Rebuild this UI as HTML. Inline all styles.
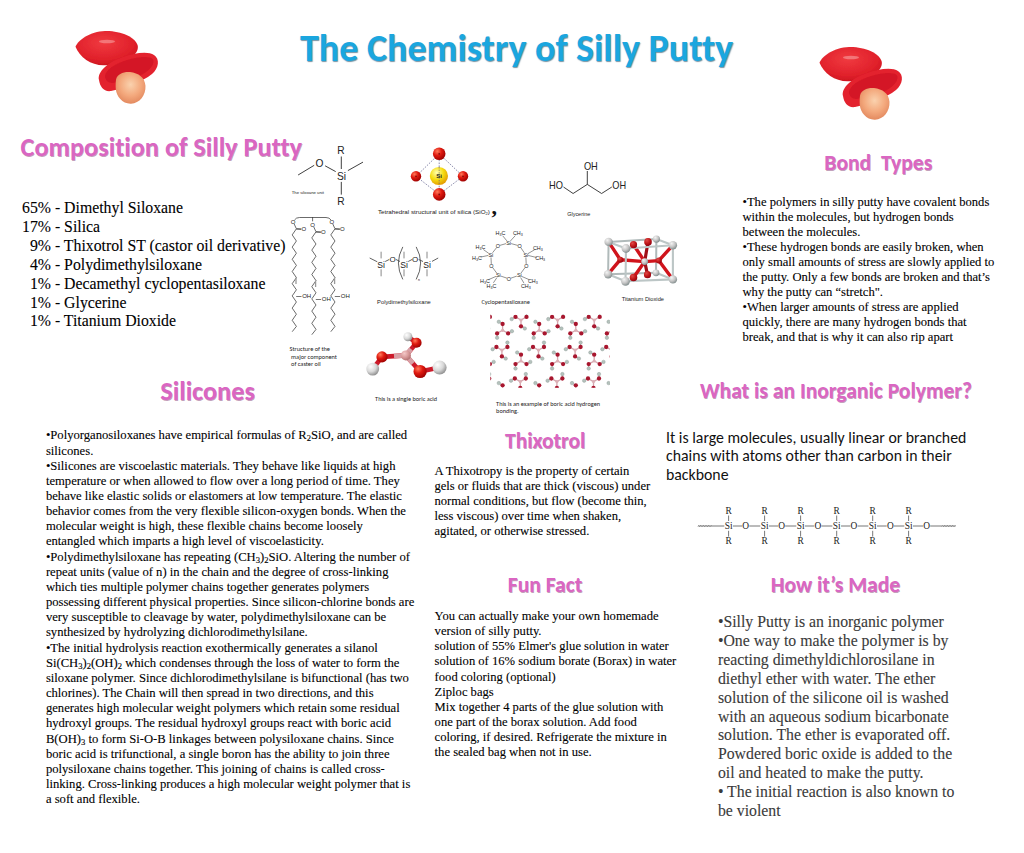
<!DOCTYPE html>
<html><head><meta charset="utf-8"><title>The Chemistry of Silly Putty</title>
<style>
html,body{margin:0;padding:0;background:#fff;}
*{font-variant-ligatures:none;font-feature-settings:"liga" 0,"clig" 0;}
body{width:1024px;height:853px;position:relative;overflow:hidden;}
.art{position:absolute;left:0;top:0;}
.t{position:absolute;white-space:nowrap;margin:0;}
.h{font-family:Carlito,Calibri,"Liberation Sans",sans-serif;font-weight:bold;color:#da66c2;
   text-shadow:0.6px 0.8px 0.6px rgba(120,40,100,0.45);}
.h1{font-size:21.6px;line-height:21.6px;}
.h2{font-size:26.3px;line-height:26.3px;}
.title{font-family:Carlito,Calibri,"Liberation Sans",sans-serif;font-weight:bold;color:#1ba6df;font-size:38px;line-height:38px;
   text-shadow:0.8px 1.1px 1px rgba(10,60,90,0.55);}
.s{font-family:"Liberation Serif","Times New Roman",serif;color:#000;-webkit-text-stroke:0.1px currentColor;}
.s12{font-size:12.6px;line-height:15px;}
.s16{font-size:15.8px;line-height:18.9px;}
.c16{font-family:Carlito,Calibri,"Liberation Sans",sans-serif;font-size:15.8px;line-height:18.5px;color:#111;}
sub{font-size:0.68em;line-height:0;vertical-align:-0.25em;}
</style></head><body>
<svg class="art" width="1024" height="853" viewBox="0 0 1024 853"><defs>
<radialGradient id="gO" cx="35%" cy="30%" r="75%"><stop offset="0" stop-color="#ff7a5a"/><stop offset="0.45" stop-color="#e01a10"/><stop offset="1" stop-color="#9a0000"/></radialGradient>
<radialGradient id="gSi" cx="38%" cy="32%" r="75%"><stop offset="0" stop-color="#ffffb0"/><stop offset="0.5" stop-color="#f5dc10"/><stop offset="1" stop-color="#e09000"/></radialGradient>
<radialGradient id="gH" cx="35%" cy="30%" r="75%"><stop offset="0" stop-color="#ffffff"/><stop offset="0.55" stop-color="#d8d8d8"/><stop offset="1" stop-color="#8a8a8a"/></radialGradient>
<radialGradient id="gTi" cx="35%" cy="30%" r="75%"><stop offset="0" stop-color="#f4f4f4"/><stop offset="0.55" stop-color="#c4c4c4"/><stop offset="1" stop-color="#7e8a8a"/></radialGradient>
<radialGradient id="gB" cx="35%" cy="30%" r="75%"><stop offset="0" stop-color="#f4c8c8"/><stop offset="0.55" stop-color="#d89a9a"/><stop offset="1" stop-color="#b07070"/></radialGradient>
<radialGradient id="gOs" cx="35%" cy="30%" r="75%"><stop offset="0" stop-color="#e04848"/><stop offset="0.55" stop-color="#c01818"/><stop offset="1" stop-color="#900010"/></radialGradient>
<radialGradient id="gRed" cx="45%" cy="35%" r="70%"><stop offset="0" stop-color="#f03a40"/><stop offset="0.7" stop-color="#e0202a"/><stop offset="1" stop-color="#c8141e"/></radialGradient>
<radialGradient id="gShell" cx="60%" cy="35%" r="70%"><stop offset="0" stop-color="#c8101c"/><stop offset="0.6" stop-color="#dc1c28"/><stop offset="1" stop-color="#e8303a"/></radialGradient>
<radialGradient id="gPutty" cx="50%" cy="40%" r="65%"><stop offset="0" stop-color="#fad2ae"/><stop offset="0.55" stop-color="#f3a87c"/><stop offset="1" stop-color="#e0845a"/></radialGradient>
<filter id="blur1" x="-20%" y="-20%" width="140%" height="140%"><feGaussianBlur stdDeviation="0.6"/></filter>
<clipPath id="latclip"><rect x="490.3" y="314.6" width="119.6" height="73.1"/></clipPath>
</defs>
<g transform="translate(0,0)" filter="url(#blur1)">
<path d="M75.5,46.8 C78,40 90,31.5 105,31 C120,30.5 136,37 137.8,46 C139,55 126,63.5 106,65.2 C92,66.3 80,58 75.5,46.8 Z" fill="url(#gRed)"/>
<ellipse cx="107" cy="41.5" rx="8" ry="1.8" fill="#f7a0a0" opacity="0.6"/>
<path d="M99,80 C97,72 108,62 122,57.5 C134,53 148,51 154,55 C160,59 159,68 152,74 C142,82 125,88 111,91 C104,92 100,87 99,80 Z" fill="#e3222e"/>
<path d="M105,76 C105.5,70 115,63.5 127,60 C139,56.5 150,56 153,59.5 C155,63 151,69 144,73.5 C134,79 120,82 112,83 C108,83 105,80 105,76 Z" fill="#d41826"/>
<path transform="translate(130.6,87.8) scale(1.07) translate(-130.6,-87.8)" d="M117,80 C118,75 124,72.5 130,73 C138,74 144,78 144.5,86 C145,95 139,102.5 131,102.7 C123,103 117.5,96 116.8,89.5 C116.5,86 116.6,82.5 117,80 Z" fill="url(#gPutty)"/>
</g>
<g transform="translate(744,16)" filter="url(#blur1)">
<path d="M75.5,46.8 C78,40 90,31.5 105,31 C120,30.5 136,37 137.8,46 C139,55 126,63.5 106,65.2 C92,66.3 80,58 75.5,46.8 Z" fill="url(#gRed)"/>
<ellipse cx="107" cy="41.5" rx="8" ry="1.8" fill="#f7a0a0" opacity="0.6"/>
<path d="M99,80 C97,72 108,62 122,57.5 C134,53 148,51 154,55 C160,59 159,68 152,74 C142,82 125,88 111,91 C104,92 100,87 99,80 Z" fill="#e3222e"/>
<path d="M105,76 C105.5,70 115,63.5 127,60 C139,56.5 150,56 153,59.5 C155,63 151,69 144,73.5 C134,79 120,82 112,83 C108,83 105,80 105,76 Z" fill="#d41826"/>
<path transform="translate(130.6,87.8) scale(1.07) translate(-130.6,-87.8)" d="M117,80 C118,75 124,72.5 130,73 C138,74 144,78 144.5,86 C145,95 139,102.5 131,102.7 C123,103 117.5,96 116.8,89.5 C116.5,86 116.6,82.5 117,80 Z" fill="url(#gPutty)"/>
</g>
<g stroke="#2a2a2a" stroke-width="0.9" fill="none">
<line x1="341.3" y1="156.5" x2="341.3" y2="169"/>
<line x1="298.1" y1="175" x2="314.2" y2="165.3"/>
<line x1="325.1" y1="165.8" x2="335.7" y2="171.6"/>
<line x1="347.9" y1="170.6" x2="363" y2="162.1"/>
<line x1="341.3" y1="181.9" x2="341.3" y2="194.6"/>
</g>
<text font-family="Liberation Sans, Arial, sans-serif" fill="#222" font-size="10.2" text-anchor="middle" x="341" y="154">R</text>
<text font-family="Liberation Sans, Arial, sans-serif" fill="#222" font-size="10.2" text-anchor="middle" x="319.5" y="166.6">O</text>
<text font-family="Liberation Sans, Arial, sans-serif" fill="#222" font-size="10.2" text-anchor="middle" x="341.6" y="179.8">Si</text>
<text font-family="Liberation Sans, Arial, sans-serif" fill="#222" font-size="10.2" text-anchor="middle" x="341" y="204.8">R</text>
<text font-family="Liberation Sans, Arial, sans-serif" fill="#222" font-size="4.2" x="291.7" y="193.8" textLength="32.3" lengthAdjust="spacingAndGlyphs">The siloxane unit</text>
<g stroke="#5a5a8a" stroke-width="0.7" stroke-dasharray="1.6 1.3" fill="none">
<path d="M439.2,153.8 L463,176.3 L439.2,194.4 L416,176.3 Z"/>
<line x1="439.2" y1="153.8" x2="439.2" y2="194.4"/>
</g>
<circle cx="438.9" cy="176" r="9.1" fill="url(#gSi)"/>
<line x1="439.2" y1="167" x2="439.2" y2="185" stroke="#5a5a8a" stroke-width="0.6" stroke-dasharray="1.4 1.2"/>
<text font-family="Liberation Sans, Arial, sans-serif" font-weight="bold" font-size="6" fill="#222" text-anchor="middle" x="439" y="178.2">Si</text>
<circle cx="439.2" cy="153.8" r="6.3" fill="url(#gO)"/>
<circle cx="439.2" cy="153.8" r="0.9" fill="#5a0000" opacity="0.7"/>
<circle cx="416" cy="176.3" r="5.2" fill="url(#gO)"/>
<circle cx="416" cy="176.3" r="0.9" fill="#5a0000" opacity="0.7"/>
<circle cx="463" cy="176.3" r="5.2" fill="url(#gO)"/>
<circle cx="463" cy="176.3" r="0.9" fill="#5a0000" opacity="0.7"/>
<circle cx="439.2" cy="194.4" r="6.3" fill="url(#gO)"/>
<circle cx="439.2" cy="194.4" r="0.9" fill="#5a0000" opacity="0.7"/>
<text font-family="Liberation Sans, Arial, sans-serif" fill="#222" font-size="6.2" x="377.9" y="214.2" textLength="112" lengthAdjust="spacingAndGlyphs">Tetrahedral structural unit of silica (SiO<tspan font-size="4" dy="1">2</tspan><tspan dy="-1">)</tspan></text>
<text font-family="Liberation Serif, serif" font-weight="bold" font-size="22" fill="#111" x="491.6" y="213.6">,</text>
<polyline points="563.5,187 573.1,193.5 587.3,184.4 601.6,193.5 611.8,187" stroke="#2a2a2a" stroke-width="0.9" fill="none"/>
<line x1="587.3" y1="184.4" x2="587.3" y2="171" stroke="#2a2a2a" stroke-width="0.9" fill="none"/>
<text font-family="Liberation Sans, Arial, sans-serif" fill="#222" font-size="10.4" x="583.9" y="169.9" textLength="13.9" lengthAdjust="spacingAndGlyphs">OH</text>
<text font-family="Liberation Sans, Arial, sans-serif" fill="#222" font-size="10.4" x="549" y="188.5" textLength="13.9" lengthAdjust="spacingAndGlyphs">HO</text>
<text font-family="Liberation Sans, Arial, sans-serif" fill="#222" font-size="10.4" x="612.3" y="188.5" textLength="13.8" lengthAdjust="spacingAndGlyphs">OH</text>
<text font-family="Liberation Sans, Arial, sans-serif" fill="#222" font-size="5.5" x="567.2" y="216" textLength="23.1" lengthAdjust="spacingAndGlyphs">Glycerine</text>
<g stroke="#3a3a3a" stroke-width="0.75" fill="none">
<path d="M294.5,220 Q296,217.5 299.5,217.5 L326,217.5 Q329.5,217.5 331,220"/>
<line x1="312.6" y1="217" x2="312.6" y2="221.3"/>
<line x1="294.2" y1="224" x2="296.3" y2="228.6"/>
<line x1="296.3" y1="228.9" x2="301.3" y2="229.1" stroke-width="1.4"/>
<polyline points="296.4,228.8 292.2,234.9 296.4,241 292.2,247.1 296.4,253.2 292.2,259.3 296.4,265.4 292.2,271.5 296.4,277.6 292.2,283.7 296.4,289.8 292.2,295.9 296.4,302 292.2,308.1 296.4,314.2 292.2,320.3 296.4,326.4 292.2,331.7"/>
<line x1="296.2" y1="296.5" x2="301.5" y2="296.5" stroke-width="0.7"/>
<line x1="296" y1="277.5" x2="296" y2="284" stroke="#999" stroke-width="1.3"/>
<line x1="313.8" y1="227" x2="315.9" y2="231.6"/>
<line x1="315.9" y1="231.9" x2="320.9" y2="232.1" stroke-width="1.4"/>
<polyline points="316,231.8 311.8,237.9 316,244 311.8,250.1 316,256.2 311.8,262.3 316,268.4 311.8,274.5 316,280.6 311.8,286.7 316,292.8 311.8,298.9 316,305 311.8,311.1 316,317.2 311.8,323.3 316,329.4 311.8,334.7"/>
<line x1="315.8" y1="299.5" x2="321.1" y2="299.5" stroke-width="0.7"/>
<line x1="315.6" y1="280.5" x2="315.6" y2="287" stroke="#999" stroke-width="1.3"/>
<line x1="332.8" y1="224" x2="334.9" y2="228.6"/>
<line x1="334.9" y1="228.9" x2="339.9" y2="229.1" stroke-width="1.4"/>
<polyline points="335,228.8 330.8,234.9 335,241 330.8,247.1 335,253.2 330.8,259.3 335,265.4 330.8,271.5 335,277.6 330.8,283.7 335,289.8 330.8,295.9 335,302 330.8,308.1 335,314.2 330.8,320.3 335,326.4 330.8,331.7"/>
<line x1="334.8" y1="296.5" x2="340.1" y2="296.5" stroke-width="0.7"/>
<line x1="334.6" y1="277.5" x2="334.6" y2="284" stroke="#999" stroke-width="1.3"/>
</g>
<text font-family="Liberation Sans, Arial, sans-serif" fill="#222" font-size="6" text-anchor="middle" x="293.1" y="223.9">O</text>
<text font-family="Liberation Sans, Arial, sans-serif" fill="#222" font-size="6" text-anchor="middle" x="312.6" y="226.5">O</text>
<text font-family="Liberation Sans, Arial, sans-serif" fill="#222" font-size="6" text-anchor="middle" x="331.9" y="223.6">O</text>
<text font-family="Liberation Sans, Arial, sans-serif" fill="#222" font-size="6" text-anchor="middle" x="303.8" y="231.4">O</text>
<text font-family="Liberation Sans, Arial, sans-serif" fill="#222" font-size="6" text-anchor="middle" x="323.4" y="234.4">O</text>
<text font-family="Liberation Sans, Arial, sans-serif" fill="#222" font-size="6" text-anchor="middle" x="342.4" y="231.4">O</text>
<text font-family="Liberation Sans, Arial, sans-serif" fill="#222" font-size="6" x="302.2" y="298.4">OH</text>
<text font-family="Liberation Sans, Arial, sans-serif" fill="#222" font-size="6" x="321.8" y="301.4">OH</text>
<text font-family="Liberation Sans, Arial, sans-serif" fill="#222" font-size="6" x="340.8" y="298.4">OH</text>
<text font-family="Carlito, Liberation Sans, sans-serif" fill="#222" font-size="6.3" x="289.5" y="351.2">Structure of the</text>
<text font-family="Carlito, Liberation Sans, sans-serif" fill="#222" font-size="6.3" x="291.1" y="358.9">major component</text>
<text font-family="Carlito, Liberation Sans, sans-serif" fill="#222" font-size="6.3" x="291.1" y="366">of caster oil</text>
<g stroke="#3a3a3a" stroke-width="0.8" fill="none">
<line x1="369.7" y1="258" x2="377.3" y2="261.8"/>
<line x1="432" y1="261.4" x2="438.2" y2="258"/>
<line x1="385.2" y1="261.5" x2="389.2" y2="259.5"/>
<line x1="396" y1="259.5" x2="400" y2="261.5"/>
<line x1="408.2" y1="261.5" x2="412" y2="259.5"/>
<line x1="418.7" y1="259.5" x2="423" y2="261.5"/>
<line x1="381.1" y1="251.7" x2="381.1" y2="258.4" stroke="#888" stroke-width="1"/>
<line x1="381.1" y1="269.3" x2="381.1" y2="276.3" stroke="#888" stroke-width="1"/>
<line x1="404" y1="251.7" x2="404" y2="258.4" stroke="#888" stroke-width="1"/>
<line x1="404" y1="269.3" x2="404" y2="276.3" stroke="#888" stroke-width="1"/>
<line x1="427" y1="251.7" x2="427" y2="258.4" stroke="#888" stroke-width="1"/>
<line x1="427" y1="269.3" x2="427" y2="276.3" stroke="#888" stroke-width="1"/>
<path d="M402.8,246.9 Q394,263 402.8,279.4"/>
<path d="M416.2,246.9 Q425,263 416.2,279.4"/>
</g>
<text font-family="Liberation Sans, Arial, sans-serif" fill="#222" font-size="8.6" text-anchor="middle" x="381.1" y="268.2">Si</text>
<text font-family="Liberation Sans, Arial, sans-serif" fill="#222" font-size="8.6" text-anchor="middle" x="404" y="268.2">Si</text>
<text font-family="Liberation Sans, Arial, sans-serif" fill="#222" font-size="8.6" text-anchor="middle" x="427" y="268.2">Si</text>
<text font-family="Liberation Sans, Arial, sans-serif" fill="#222" font-size="8" text-anchor="middle" x="392.5" y="261.6">O</text>
<text font-family="Liberation Sans, Arial, sans-serif" fill="#222" font-size="8" text-anchor="middle" x="415.2" y="261.6">O</text>
<text font-family="Liberation Sans, Arial, sans-serif" fill="#222" font-size="3.5" x="418" y="281">n</text>
<text font-family="Liberation Sans, Arial, sans-serif" fill="#222" font-size="5.75" x="377.1" y="303.8" textLength="53.7" lengthAdjust="spacingAndGlyphs">Polydimethylsiloxane</text>
<g stroke="#4a4a4a" stroke-width="0.6" fill="none">
<line x1="511.1" y1="243.6" x2="517.7" y2="245.4"/>
<line x1="520.7" y1="247.5" x2="524.3" y2="252.8"/>
<line x1="525.9" y1="257.5" x2="526.2" y2="263.9"/>
<line x1="525.1" y1="267.5" x2="520.9" y2="273.2"/>
<line x1="516.8" y1="276.1" x2="510.8" y2="278.2"/>
<line x1="507" y1="278.2" x2="500.9" y2="276.1"/>
<line x1="496.8" y1="273.2" x2="492.6" y2="267.5"/>
<line x1="491.3" y1="263.9" x2="491" y2="257.5"/>
<line x1="492.5" y1="252.8" x2="496.7" y2="247.5"/>
<line x1="499.8" y1="245.4" x2="506.1" y2="243.6"/>
<line x1="506.9" y1="240.9" x2="502.7" y2="235.8"/>
<line x1="510.4" y1="241" x2="515.3" y2="235.6"/>
<line x1="488.8" y1="253.4" x2="483.3" y2="249.5"/>
<line x1="488.4" y1="255.4" x2="480.5" y2="257.1"/>
<line x1="528" y1="253.6" x2="534.7" y2="249.7"/>
<line x1="528.3" y1="255.5" x2="536.7" y2="257.5"/>
<line x1="496" y1="276.4" x2="488.2" y2="279.8"/>
<line x1="497" y1="277.5" x2="493.4" y2="282.8"/>
<line x1="521.7" y1="276.4" x2="529.5" y2="279.8"/>
<line x1="520.6" y1="277.5" x2="524" y2="283.2"/>
</g>
<text font-family="Liberation Sans, Arial, sans-serif" fill="#222" font-size="5.4" text-anchor="middle" x="508.6" y="244.8">Si</text>
<text font-family="Liberation Sans, Arial, sans-serif" fill="#222" font-size="5.4" text-anchor="middle" x="519.6" y="247.8">O</text>
<text font-family="Liberation Sans, Arial, sans-serif" fill="#222" font-size="5.4" text-anchor="middle" x="525.8" y="256.8">Si</text>
<text font-family="Liberation Sans, Arial, sans-serif" fill="#222" font-size="5.4" text-anchor="middle" x="526.3" y="267.8">O</text>
<text font-family="Liberation Sans, Arial, sans-serif" fill="#222" font-size="5.4" text-anchor="middle" x="519.3" y="277.2">Si</text>
<text font-family="Liberation Sans, Arial, sans-serif" fill="#222" font-size="5.4" text-anchor="middle" x="508.9" y="280.7">O</text>
<text font-family="Liberation Sans, Arial, sans-serif" fill="#222" font-size="5.4" text-anchor="middle" x="498.4" y="277.2">Si</text>
<text font-family="Liberation Sans, Arial, sans-serif" fill="#222" font-size="5.4" text-anchor="middle" x="491.4" y="267.8">O</text>
<text font-family="Liberation Sans, Arial, sans-serif" fill="#222" font-size="5.4" text-anchor="middle" x="490.9" y="256.8">Si</text>
<text font-family="Liberation Sans, Arial, sans-serif" fill="#222" font-size="5.4" text-anchor="middle" x="497.9" y="247.8">O</text>
<text font-family="Liberation Sans, Arial, sans-serif" fill="#222" font-size="5.4" text-anchor="middle" x="500.4" y="234.9">H<tspan font-size="3.6" dy="1">3</tspan><tspan dy="-1">C</tspan></text>
<text font-family="Liberation Sans, Arial, sans-serif" fill="#222" font-size="5.4" text-anchor="middle" x="517.8" y="234.9">CH<tspan font-size="3.6" dy="1">3</tspan></text>
<text font-family="Liberation Sans, Arial, sans-serif" fill="#222" font-size="5.4" text-anchor="middle" x="480.4" y="249.3">H<tspan font-size="3.6" dy="1">3</tspan><tspan dy="-1">C</tspan></text>
<text font-family="Liberation Sans, Arial, sans-serif" fill="#222" font-size="5.4" text-anchor="middle" x="477" y="259.8">H<tspan font-size="3.6" dy="1">3</tspan><tspan dy="-1">C</tspan></text>
<text font-family="Liberation Sans, Arial, sans-serif" fill="#222" font-size="5.4" text-anchor="middle" x="537.8" y="249.8">CH<tspan font-size="3.6" dy="1">3</tspan></text>
<text font-family="Liberation Sans, Arial, sans-serif" fill="#222" font-size="5.4" text-anchor="middle" x="540.2" y="260.3">CH<tspan font-size="3.6" dy="1">3</tspan></text>
<text font-family="Liberation Sans, Arial, sans-serif" fill="#222" font-size="5.4" text-anchor="middle" x="484.9" y="283.2">H<tspan font-size="3.6" dy="1">3</tspan><tspan dy="-1">C</tspan></text>
<text font-family="Liberation Sans, Arial, sans-serif" fill="#222" font-size="5.4" text-anchor="middle" x="491.4" y="287.7">H<tspan font-size="3.6" dy="1">3</tspan><tspan dy="-1">C</tspan></text>
<text font-family="Liberation Sans, Arial, sans-serif" fill="#222" font-size="5.4" text-anchor="middle" x="532.8" y="283.2">CH<tspan font-size="3.6" dy="1">3</tspan></text>
<text font-family="Liberation Sans, Arial, sans-serif" fill="#222" font-size="5.4" text-anchor="middle" x="525.8" y="288.2">CH<tspan font-size="3.6" dy="1">3</tspan></text>
<text font-family="Carlito, Liberation Sans, sans-serif" fill="#222" font-size="5.6" x="481.4" y="303.6" textLength="48.4" lengthAdjust="spacingAndGlyphs">Cyclopentasiloxane</text>
<g stroke-linecap="round">
<line x1="608.6" y1="241.9" x2="656.4" y2="239.1" stroke="#b0baba" stroke-width="2"/>
<line x1="608.1" y1="274.2" x2="656" y2="272.8" stroke="#b0baba" stroke-width="2"/>
<line x1="608.6" y1="241.9" x2="608.1" y2="274.2" stroke="#b0baba" stroke-width="2"/>
<line x1="656.4" y1="239.1" x2="656" y2="272.8" stroke="#b0baba" stroke-width="2"/>
<line x1="648" y1="241.9" x2="644.7" y2="261.6" stroke="#a01018" stroke-width="3.2"/>
<line x1="647.5" y1="274.7" x2="644.7" y2="261.6" stroke="#a01018" stroke-width="3.2"/>
<line x1="608.6" y1="241.9" x2="620.3" y2="259.7" stroke="#d0141c" stroke-width="3.4"/>
<line x1="620.3" y1="259.7" x2="608.1" y2="274.2" stroke="#d0141c" stroke-width="3.4"/>
<line x1="620.3" y1="259.7" x2="644.7" y2="261.6" stroke="#d0141c" stroke-width="3.4"/>
<line x1="672.9" y1="245.2" x2="658.8" y2="260.6" stroke="#d0141c" stroke-width="3.4"/>
<line x1="658.8" y1="260.6" x2="672.9" y2="279.4" stroke="#d0141c" stroke-width="3.4"/>
<line x1="658.8" y1="260.6" x2="644.7" y2="261.6" stroke="#d0141c" stroke-width="3.4"/>
<line x1="633.5" y1="244.7" x2="644.7" y2="261.6" stroke="#d0141c" stroke-width="3.4"/>
<line x1="633.5" y1="277.5" x2="644.7" y2="261.6" stroke="#d0141c" stroke-width="3.4"/>
<line x1="626" y1="248.5" x2="672.9" y2="245.2" stroke="#bcc6c6" stroke-width="2.1"/>
<line x1="625.5" y1="281.3" x2="672.9" y2="279.4" stroke="#bcc6c6" stroke-width="2.1"/>
<line x1="608.6" y1="241.9" x2="626" y2="248.5" stroke="#bcc6c6" stroke-width="2.1"/>
<line x1="656.4" y1="239.1" x2="672.9" y2="245.2" stroke="#bcc6c6" stroke-width="2.1"/>
<line x1="608.1" y1="274.2" x2="625.5" y2="281.3" stroke="#bcc6c6" stroke-width="2.1"/>
<line x1="656" y1="272.8" x2="672.9" y2="279.4" stroke="#bcc6c6" stroke-width="2.1"/>
<line x1="626" y1="248.5" x2="625.5" y2="281.3" stroke="#bcc6c6" stroke-width="2.1"/>
<line x1="672.9" y1="245.2" x2="672.9" y2="279.4" stroke="#bcc6c6" stroke-width="2.1"/>
</g>
<circle cx="656.4" cy="239.1" r="3.6" fill="url(#gTi)"/>
<circle cx="656" cy="272.8" r="3.4" fill="url(#gTi)"/>
<circle cx="608.6" cy="241.9" r="4.2" fill="url(#gTi)"/>
<circle cx="608.1" cy="274.2" r="4.2" fill="url(#gTi)"/>
<circle cx="644.7" cy="261.6" r="3.4" fill="url(#gTi)"/>
<circle cx="648" cy="241.9" r="3.8" fill="url(#gOs)"/>
<circle cx="647.5" cy="274.7" r="3.6" fill="url(#gOs)"/>
<circle cx="633.5" cy="244.7" r="3.6" fill="url(#gOs)"/>
<circle cx="620.3" cy="259.7" r="3" fill="url(#gOs)"/>
<circle cx="658.8" cy="260.6" r="3" fill="url(#gOs)"/>
<circle cx="633.5" cy="277.5" r="3.8" fill="url(#gOs)"/>
<circle cx="626" cy="248.5" r="4.4" fill="url(#gTi)"/>
<circle cx="672.9" cy="245.2" r="4.2" fill="url(#gTi)"/>
<circle cx="625.5" cy="281.3" r="4.4" fill="url(#gTi)"/>
<circle cx="672.9" cy="279.4" r="4.2" fill="url(#gTi)"/>
<text font-family="Liberation Sans, Arial, sans-serif" fill="#222" font-size="5.7" x="621.7" y="301" textLength="42.3" lengthAdjust="spacingAndGlyphs">Titanium Dioxide</text>
<line x1="405.9" y1="355.4" x2="416.6" y2="342.7" stroke="#cc1a2a" stroke-width="4.6"/>
<line x1="416.6" y1="342.7" x2="407.9" y2="336.8" stroke="#cc1a2a" stroke-width="4.6"/>
<line x1="405.9" y1="355.4" x2="382" y2="356.9" stroke="#cc1a2a" stroke-width="4.6"/>
<line x1="382" y1="356.9" x2="372.7" y2="369.1" stroke="#cc1a2a" stroke-width="4.6"/>
<line x1="405.9" y1="355.4" x2="420.1" y2="371.5" stroke="#cc1a2a" stroke-width="4.6"/>
<line x1="420.1" y1="371.5" x2="439.6" y2="367.6" stroke="#cc1a2a" stroke-width="4.6"/>
<line x1="405.9" y1="355.4" x2="394" y2="356.1" stroke="#d8a0a6" stroke-width="4.8"/>
<line x1="405.9" y1="355.4" x2="411" y2="349" stroke="#d8a0a6" stroke-width="4.8"/>
<line x1="405.9" y1="355.4" x2="413" y2="363.4" stroke="#d8a0a6" stroke-width="4.8"/>
<circle cx="407.9" cy="336.8" r="4.5" fill="url(#gH)"/>
<circle cx="416.6" cy="342.7" r="5" fill="url(#gO)"/>
<circle cx="405.9" cy="355.4" r="5" fill="url(#gB)"/>
<circle cx="382" cy="356.9" r="5.6" fill="url(#gO)"/>
<circle cx="372.7" cy="369.1" r="6.4" fill="url(#gH)"/>
<circle cx="439.6" cy="367.6" r="7" fill="url(#gH)"/>
<circle cx="420.1" cy="371.5" r="6.6" fill="url(#gO)"/>
<text font-family="Carlito, Liberation Sans, sans-serif" fill="#222" font-size="6.25" x="375.1" y="400.8">This is a single boric acid</text>
<g clip-path="url(#latclip)">
<line x1="502.4" y1="289.4" x2="496.9" y2="286.2" stroke="#d4a4ac" stroke-width="1.3"/>
<line x1="496.9" y1="286.2" x2="493.1" y2="288.4" stroke="#b89098" stroke-width="1.0"/>
<line x1="502.4" y1="289.4" x2="507.9" y2="286.2" stroke="#d4a4ac" stroke-width="1.3"/>
<line x1="507.9" y1="286.2" x2="507.9" y2="281.9" stroke="#b89098" stroke-width="1.0"/>
<line x1="502.4" y1="289.4" x2="502.4" y2="295.7" stroke="#d4a4ac" stroke-width="1.3"/>
<line x1="502.4" y1="295.7" x2="506.2" y2="297.9" stroke="#b89098" stroke-width="1.0"/>
<line x1="539" y1="289.4" x2="533.5" y2="286.2" stroke="#d4a4ac" stroke-width="1.3"/>
<line x1="533.5" y1="286.2" x2="529.7" y2="288.4" stroke="#b89098" stroke-width="1.0"/>
<line x1="539" y1="289.4" x2="544.5" y2="286.2" stroke="#d4a4ac" stroke-width="1.3"/>
<line x1="544.5" y1="286.2" x2="544.5" y2="281.9" stroke="#b89098" stroke-width="1.0"/>
<line x1="539" y1="289.4" x2="539" y2="295.7" stroke="#d4a4ac" stroke-width="1.3"/>
<line x1="539" y1="295.7" x2="542.8" y2="297.9" stroke="#b89098" stroke-width="1.0"/>
<line x1="575.6" y1="289.4" x2="570.1" y2="286.2" stroke="#d4a4ac" stroke-width="1.3"/>
<line x1="570.1" y1="286.2" x2="566.3" y2="288.4" stroke="#b89098" stroke-width="1.0"/>
<line x1="575.6" y1="289.4" x2="581.1" y2="286.2" stroke="#d4a4ac" stroke-width="1.3"/>
<line x1="581.1" y1="286.2" x2="581.1" y2="281.9" stroke="#b89098" stroke-width="1.0"/>
<line x1="575.6" y1="289.4" x2="575.6" y2="295.7" stroke="#d4a4ac" stroke-width="1.3"/>
<line x1="575.6" y1="295.7" x2="579.4" y2="297.9" stroke="#b89098" stroke-width="1.0"/>
<line x1="612.2" y1="289.4" x2="606.7" y2="286.2" stroke="#d4a4ac" stroke-width="1.3"/>
<line x1="606.7" y1="286.2" x2="602.9" y2="288.4" stroke="#b89098" stroke-width="1.0"/>
<line x1="612.2" y1="289.4" x2="617.7" y2="286.2" stroke="#d4a4ac" stroke-width="1.3"/>
<line x1="617.7" y1="286.2" x2="617.7" y2="281.9" stroke="#b89098" stroke-width="1.0"/>
<line x1="612.2" y1="289.4" x2="612.2" y2="295.7" stroke="#d4a4ac" stroke-width="1.3"/>
<line x1="612.2" y1="295.7" x2="616" y2="297.9" stroke="#b89098" stroke-width="1.0"/>
<line x1="484.4" y1="299.7" x2="484.4" y2="293.4" stroke="#d4a4ac" stroke-width="1.3"/>
<line x1="484.4" y1="293.4" x2="480.6" y2="291.2" stroke="#b89098" stroke-width="1.0"/>
<line x1="484.4" y1="299.7" x2="478.9" y2="302.8" stroke="#d4a4ac" stroke-width="1.3"/>
<line x1="478.9" y1="302.8" x2="478.9" y2="307.2" stroke="#b89098" stroke-width="1.0"/>
<line x1="484.4" y1="299.7" x2="489.9" y2="302.8" stroke="#d4a4ac" stroke-width="1.3"/>
<line x1="489.9" y1="302.8" x2="493.7" y2="300.6" stroke="#b89098" stroke-width="1.0"/>
<line x1="521" y1="299.7" x2="521" y2="293.4" stroke="#d4a4ac" stroke-width="1.3"/>
<line x1="521" y1="293.4" x2="517.2" y2="291.2" stroke="#b89098" stroke-width="1.0"/>
<line x1="521" y1="299.7" x2="515.5" y2="302.8" stroke="#d4a4ac" stroke-width="1.3"/>
<line x1="515.5" y1="302.8" x2="515.5" y2="307.2" stroke="#b89098" stroke-width="1.0"/>
<line x1="521" y1="299.7" x2="526.5" y2="302.8" stroke="#d4a4ac" stroke-width="1.3"/>
<line x1="526.5" y1="302.8" x2="530.3" y2="300.6" stroke="#b89098" stroke-width="1.0"/>
<line x1="557.6" y1="299.7" x2="557.6" y2="293.4" stroke="#d4a4ac" stroke-width="1.3"/>
<line x1="557.6" y1="293.4" x2="553.8" y2="291.2" stroke="#b89098" stroke-width="1.0"/>
<line x1="557.6" y1="299.7" x2="552.1" y2="302.8" stroke="#d4a4ac" stroke-width="1.3"/>
<line x1="552.1" y1="302.8" x2="552.1" y2="307.2" stroke="#b89098" stroke-width="1.0"/>
<line x1="557.6" y1="299.7" x2="563.1" y2="302.8" stroke="#d4a4ac" stroke-width="1.3"/>
<line x1="563.1" y1="302.8" x2="566.9" y2="300.6" stroke="#b89098" stroke-width="1.0"/>
<line x1="594.2" y1="299.7" x2="594.2" y2="293.4" stroke="#d4a4ac" stroke-width="1.3"/>
<line x1="594.2" y1="293.4" x2="590.4" y2="291.2" stroke="#b89098" stroke-width="1.0"/>
<line x1="594.2" y1="299.7" x2="588.7" y2="302.8" stroke="#d4a4ac" stroke-width="1.3"/>
<line x1="588.7" y1="302.8" x2="588.7" y2="307.2" stroke="#b89098" stroke-width="1.0"/>
<line x1="594.2" y1="299.7" x2="599.7" y2="302.8" stroke="#d4a4ac" stroke-width="1.3"/>
<line x1="599.7" y1="302.8" x2="603.5" y2="300.6" stroke="#b89098" stroke-width="1.0"/>
<line x1="484.4" y1="320" x2="478.9" y2="316.9" stroke="#d4a4ac" stroke-width="1.3"/>
<line x1="478.9" y1="316.9" x2="475.1" y2="319.1" stroke="#b89098" stroke-width="1.0"/>
<line x1="484.4" y1="320" x2="489.9" y2="316.9" stroke="#d4a4ac" stroke-width="1.3"/>
<line x1="489.9" y1="316.9" x2="489.9" y2="312.5" stroke="#b89098" stroke-width="1.0"/>
<line x1="484.4" y1="320" x2="484.4" y2="326.3" stroke="#d4a4ac" stroke-width="1.3"/>
<line x1="484.4" y1="326.3" x2="488.2" y2="328.5" stroke="#b89098" stroke-width="1.0"/>
<line x1="521" y1="320" x2="515.5" y2="316.9" stroke="#d4a4ac" stroke-width="1.3"/>
<line x1="515.5" y1="316.9" x2="511.7" y2="319.1" stroke="#b89098" stroke-width="1.0"/>
<line x1="521" y1="320" x2="526.5" y2="316.9" stroke="#d4a4ac" stroke-width="1.3"/>
<line x1="526.5" y1="316.9" x2="526.5" y2="312.5" stroke="#b89098" stroke-width="1.0"/>
<line x1="521" y1="320" x2="521" y2="326.3" stroke="#d4a4ac" stroke-width="1.3"/>
<line x1="521" y1="326.3" x2="524.8" y2="328.5" stroke="#b89098" stroke-width="1.0"/>
<line x1="557.6" y1="320" x2="552.1" y2="316.9" stroke="#d4a4ac" stroke-width="1.3"/>
<line x1="552.1" y1="316.9" x2="548.3" y2="319.1" stroke="#b89098" stroke-width="1.0"/>
<line x1="557.6" y1="320" x2="563.1" y2="316.9" stroke="#d4a4ac" stroke-width="1.3"/>
<line x1="563.1" y1="316.9" x2="563.1" y2="312.5" stroke="#b89098" stroke-width="1.0"/>
<line x1="557.6" y1="320" x2="557.6" y2="326.3" stroke="#d4a4ac" stroke-width="1.3"/>
<line x1="557.6" y1="326.3" x2="561.4" y2="328.5" stroke="#b89098" stroke-width="1.0"/>
<line x1="594.2" y1="320" x2="588.7" y2="316.9" stroke="#d4a4ac" stroke-width="1.3"/>
<line x1="588.7" y1="316.9" x2="584.9" y2="319.1" stroke="#b89098" stroke-width="1.0"/>
<line x1="594.2" y1="320" x2="599.7" y2="316.9" stroke="#d4a4ac" stroke-width="1.3"/>
<line x1="599.7" y1="316.9" x2="599.7" y2="312.5" stroke="#b89098" stroke-width="1.0"/>
<line x1="594.2" y1="320" x2="594.2" y2="326.3" stroke="#d4a4ac" stroke-width="1.3"/>
<line x1="594.2" y1="326.3" x2="598" y2="328.5" stroke="#b89098" stroke-width="1.0"/>
<line x1="502.6" y1="330.3" x2="502.6" y2="324" stroke="#d4a4ac" stroke-width="1.3"/>
<line x1="502.6" y1="324" x2="498.8" y2="321.8" stroke="#b89098" stroke-width="1.0"/>
<line x1="502.6" y1="330.3" x2="497.1" y2="333.4" stroke="#d4a4ac" stroke-width="1.3"/>
<line x1="497.1" y1="333.4" x2="497.1" y2="337.8" stroke="#b89098" stroke-width="1.0"/>
<line x1="502.6" y1="330.3" x2="508.1" y2="333.4" stroke="#d4a4ac" stroke-width="1.3"/>
<line x1="508.1" y1="333.4" x2="511.9" y2="331.2" stroke="#b89098" stroke-width="1.0"/>
<line x1="539.2" y1="330.3" x2="539.2" y2="324" stroke="#d4a4ac" stroke-width="1.3"/>
<line x1="539.2" y1="324" x2="535.4" y2="321.8" stroke="#b89098" stroke-width="1.0"/>
<line x1="539.2" y1="330.3" x2="533.7" y2="333.4" stroke="#d4a4ac" stroke-width="1.3"/>
<line x1="533.7" y1="333.4" x2="533.7" y2="337.8" stroke="#b89098" stroke-width="1.0"/>
<line x1="539.2" y1="330.3" x2="544.7" y2="333.4" stroke="#d4a4ac" stroke-width="1.3"/>
<line x1="544.7" y1="333.4" x2="548.5" y2="331.2" stroke="#b89098" stroke-width="1.0"/>
<line x1="575.8" y1="330.3" x2="575.8" y2="324" stroke="#d4a4ac" stroke-width="1.3"/>
<line x1="575.8" y1="324" x2="572" y2="321.8" stroke="#b89098" stroke-width="1.0"/>
<line x1="575.8" y1="330.3" x2="570.3" y2="333.4" stroke="#d4a4ac" stroke-width="1.3"/>
<line x1="570.3" y1="333.4" x2="570.3" y2="337.8" stroke="#b89098" stroke-width="1.0"/>
<line x1="575.8" y1="330.3" x2="581.3" y2="333.4" stroke="#d4a4ac" stroke-width="1.3"/>
<line x1="581.3" y1="333.4" x2="585.1" y2="331.2" stroke="#b89098" stroke-width="1.0"/>
<line x1="612.4" y1="330.3" x2="612.4" y2="324" stroke="#d4a4ac" stroke-width="1.3"/>
<line x1="612.4" y1="324" x2="608.6" y2="321.8" stroke="#b89098" stroke-width="1.0"/>
<line x1="612.4" y1="330.3" x2="606.9" y2="333.4" stroke="#d4a4ac" stroke-width="1.3"/>
<line x1="606.9" y1="333.4" x2="606.9" y2="337.8" stroke="#b89098" stroke-width="1.0"/>
<line x1="612.4" y1="330.3" x2="617.9" y2="333.4" stroke="#d4a4ac" stroke-width="1.3"/>
<line x1="617.9" y1="333.4" x2="621.7" y2="331.2" stroke="#b89098" stroke-width="1.0"/>
<line x1="501.9" y1="350.1" x2="496.4" y2="347" stroke="#d4a4ac" stroke-width="1.3"/>
<line x1="496.4" y1="347" x2="492.6" y2="349.2" stroke="#b89098" stroke-width="1.0"/>
<line x1="501.9" y1="350.1" x2="507.4" y2="347" stroke="#d4a4ac" stroke-width="1.3"/>
<line x1="507.4" y1="347" x2="507.4" y2="342.6" stroke="#b89098" stroke-width="1.0"/>
<line x1="501.9" y1="350.1" x2="501.9" y2="356.4" stroke="#d4a4ac" stroke-width="1.3"/>
<line x1="501.9" y1="356.4" x2="505.7" y2="358.6" stroke="#b89098" stroke-width="1.0"/>
<line x1="538.5" y1="350.1" x2="533" y2="347" stroke="#d4a4ac" stroke-width="1.3"/>
<line x1="533" y1="347" x2="529.2" y2="349.2" stroke="#b89098" stroke-width="1.0"/>
<line x1="538.5" y1="350.1" x2="544" y2="347" stroke="#d4a4ac" stroke-width="1.3"/>
<line x1="544" y1="347" x2="544" y2="342.6" stroke="#b89098" stroke-width="1.0"/>
<line x1="538.5" y1="350.1" x2="538.5" y2="356.4" stroke="#d4a4ac" stroke-width="1.3"/>
<line x1="538.5" y1="356.4" x2="542.3" y2="358.6" stroke="#b89098" stroke-width="1.0"/>
<line x1="575.1" y1="350.1" x2="569.6" y2="347" stroke="#d4a4ac" stroke-width="1.3"/>
<line x1="569.6" y1="347" x2="565.8" y2="349.2" stroke="#b89098" stroke-width="1.0"/>
<line x1="575.1" y1="350.1" x2="580.6" y2="347" stroke="#d4a4ac" stroke-width="1.3"/>
<line x1="580.6" y1="347" x2="580.6" y2="342.6" stroke="#b89098" stroke-width="1.0"/>
<line x1="575.1" y1="350.1" x2="575.1" y2="356.4" stroke="#d4a4ac" stroke-width="1.3"/>
<line x1="575.1" y1="356.4" x2="578.9" y2="358.6" stroke="#b89098" stroke-width="1.0"/>
<line x1="611.7" y1="350.1" x2="606.2" y2="347" stroke="#d4a4ac" stroke-width="1.3"/>
<line x1="606.2" y1="347" x2="602.4" y2="349.2" stroke="#b89098" stroke-width="1.0"/>
<line x1="611.7" y1="350.1" x2="617.2" y2="347" stroke="#d4a4ac" stroke-width="1.3"/>
<line x1="617.2" y1="347" x2="617.2" y2="342.6" stroke="#b89098" stroke-width="1.0"/>
<line x1="611.7" y1="350.1" x2="611.7" y2="356.4" stroke="#d4a4ac" stroke-width="1.3"/>
<line x1="611.7" y1="356.4" x2="615.5" y2="358.6" stroke="#b89098" stroke-width="1.0"/>
<line x1="484.4" y1="361" x2="484.4" y2="354.7" stroke="#d4a4ac" stroke-width="1.3"/>
<line x1="484.4" y1="354.7" x2="480.6" y2="352.5" stroke="#b89098" stroke-width="1.0"/>
<line x1="484.4" y1="361" x2="478.9" y2="364.1" stroke="#d4a4ac" stroke-width="1.3"/>
<line x1="478.9" y1="364.1" x2="478.9" y2="368.5" stroke="#b89098" stroke-width="1.0"/>
<line x1="484.4" y1="361" x2="489.9" y2="364.1" stroke="#d4a4ac" stroke-width="1.3"/>
<line x1="489.9" y1="364.1" x2="493.7" y2="361.9" stroke="#b89098" stroke-width="1.0"/>
<line x1="521" y1="361" x2="521" y2="354.7" stroke="#d4a4ac" stroke-width="1.3"/>
<line x1="521" y1="354.7" x2="517.2" y2="352.5" stroke="#b89098" stroke-width="1.0"/>
<line x1="521" y1="361" x2="515.5" y2="364.1" stroke="#d4a4ac" stroke-width="1.3"/>
<line x1="515.5" y1="364.1" x2="515.5" y2="368.5" stroke="#b89098" stroke-width="1.0"/>
<line x1="521" y1="361" x2="526.5" y2="364.1" stroke="#d4a4ac" stroke-width="1.3"/>
<line x1="526.5" y1="364.1" x2="530.3" y2="361.9" stroke="#b89098" stroke-width="1.0"/>
<line x1="557.6" y1="361" x2="557.6" y2="354.7" stroke="#d4a4ac" stroke-width="1.3"/>
<line x1="557.6" y1="354.7" x2="553.8" y2="352.5" stroke="#b89098" stroke-width="1.0"/>
<line x1="557.6" y1="361" x2="552.1" y2="364.1" stroke="#d4a4ac" stroke-width="1.3"/>
<line x1="552.1" y1="364.1" x2="552.1" y2="368.5" stroke="#b89098" stroke-width="1.0"/>
<line x1="557.6" y1="361" x2="563.1" y2="364.1" stroke="#d4a4ac" stroke-width="1.3"/>
<line x1="563.1" y1="364.1" x2="566.9" y2="361.9" stroke="#b89098" stroke-width="1.0"/>
<line x1="594.2" y1="361" x2="594.2" y2="354.7" stroke="#d4a4ac" stroke-width="1.3"/>
<line x1="594.2" y1="354.7" x2="590.4" y2="352.5" stroke="#b89098" stroke-width="1.0"/>
<line x1="594.2" y1="361" x2="588.7" y2="364.1" stroke="#d4a4ac" stroke-width="1.3"/>
<line x1="588.7" y1="364.1" x2="588.7" y2="368.5" stroke="#b89098" stroke-width="1.0"/>
<line x1="594.2" y1="361" x2="599.7" y2="364.1" stroke="#d4a4ac" stroke-width="1.3"/>
<line x1="599.7" y1="364.1" x2="603.5" y2="361.9" stroke="#b89098" stroke-width="1.0"/>
<line x1="483.7" y1="381.6" x2="478.2" y2="378.5" stroke="#d4a4ac" stroke-width="1.3"/>
<line x1="478.2" y1="378.5" x2="474.4" y2="380.7" stroke="#b89098" stroke-width="1.0"/>
<line x1="483.7" y1="381.6" x2="489.2" y2="378.5" stroke="#d4a4ac" stroke-width="1.3"/>
<line x1="489.2" y1="378.5" x2="489.2" y2="374.1" stroke="#b89098" stroke-width="1.0"/>
<line x1="483.7" y1="381.6" x2="483.7" y2="387.9" stroke="#d4a4ac" stroke-width="1.3"/>
<line x1="483.7" y1="387.9" x2="487.5" y2="390.1" stroke="#b89098" stroke-width="1.0"/>
<line x1="520.3" y1="381.6" x2="514.8" y2="378.5" stroke="#d4a4ac" stroke-width="1.3"/>
<line x1="514.8" y1="378.5" x2="511" y2="380.7" stroke="#b89098" stroke-width="1.0"/>
<line x1="520.3" y1="381.6" x2="525.8" y2="378.5" stroke="#d4a4ac" stroke-width="1.3"/>
<line x1="525.8" y1="378.5" x2="525.8" y2="374.1" stroke="#b89098" stroke-width="1.0"/>
<line x1="520.3" y1="381.6" x2="520.3" y2="387.9" stroke="#d4a4ac" stroke-width="1.3"/>
<line x1="520.3" y1="387.9" x2="524.1" y2="390.1" stroke="#b89098" stroke-width="1.0"/>
<line x1="556.9" y1="381.6" x2="551.4" y2="378.5" stroke="#d4a4ac" stroke-width="1.3"/>
<line x1="551.4" y1="378.5" x2="547.6" y2="380.7" stroke="#b89098" stroke-width="1.0"/>
<line x1="556.9" y1="381.6" x2="562.4" y2="378.5" stroke="#d4a4ac" stroke-width="1.3"/>
<line x1="562.4" y1="378.5" x2="562.4" y2="374.1" stroke="#b89098" stroke-width="1.0"/>
<line x1="556.9" y1="381.6" x2="556.9" y2="387.9" stroke="#d4a4ac" stroke-width="1.3"/>
<line x1="556.9" y1="387.9" x2="560.7" y2="390.1" stroke="#b89098" stroke-width="1.0"/>
<line x1="593.5" y1="381.6" x2="588" y2="378.5" stroke="#d4a4ac" stroke-width="1.3"/>
<line x1="588" y1="378.5" x2="584.2" y2="380.7" stroke="#b89098" stroke-width="1.0"/>
<line x1="593.5" y1="381.6" x2="599" y2="378.5" stroke="#d4a4ac" stroke-width="1.3"/>
<line x1="599" y1="378.5" x2="599" y2="374.1" stroke="#b89098" stroke-width="1.0"/>
<line x1="593.5" y1="381.6" x2="593.5" y2="387.9" stroke="#d4a4ac" stroke-width="1.3"/>
<line x1="593.5" y1="387.9" x2="597.3" y2="390.1" stroke="#b89098" stroke-width="1.0"/>
<line x1="502.6" y1="391.6" x2="502.6" y2="385.3" stroke="#d4a4ac" stroke-width="1.3"/>
<line x1="502.6" y1="385.3" x2="498.8" y2="383.1" stroke="#b89098" stroke-width="1.0"/>
<line x1="502.6" y1="391.6" x2="497.1" y2="394.8" stroke="#d4a4ac" stroke-width="1.3"/>
<line x1="497.1" y1="394.8" x2="497.1" y2="399.1" stroke="#b89098" stroke-width="1.0"/>
<line x1="502.6" y1="391.6" x2="508.1" y2="394.8" stroke="#d4a4ac" stroke-width="1.3"/>
<line x1="508.1" y1="394.8" x2="511.9" y2="392.6" stroke="#b89098" stroke-width="1.0"/>
<line x1="539.2" y1="391.6" x2="539.2" y2="385.3" stroke="#d4a4ac" stroke-width="1.3"/>
<line x1="539.2" y1="385.3" x2="535.4" y2="383.1" stroke="#b89098" stroke-width="1.0"/>
<line x1="539.2" y1="391.6" x2="533.7" y2="394.8" stroke="#d4a4ac" stroke-width="1.3"/>
<line x1="533.7" y1="394.8" x2="533.7" y2="399.1" stroke="#b89098" stroke-width="1.0"/>
<line x1="539.2" y1="391.6" x2="544.7" y2="394.8" stroke="#d4a4ac" stroke-width="1.3"/>
<line x1="544.7" y1="394.8" x2="548.5" y2="392.6" stroke="#b89098" stroke-width="1.0"/>
<line x1="575.8" y1="391.6" x2="575.8" y2="385.3" stroke="#d4a4ac" stroke-width="1.3"/>
<line x1="575.8" y1="385.3" x2="572" y2="383.1" stroke="#b89098" stroke-width="1.0"/>
<line x1="575.8" y1="391.6" x2="570.3" y2="394.8" stroke="#d4a4ac" stroke-width="1.3"/>
<line x1="570.3" y1="394.8" x2="570.3" y2="399.1" stroke="#b89098" stroke-width="1.0"/>
<line x1="575.8" y1="391.6" x2="581.3" y2="394.8" stroke="#d4a4ac" stroke-width="1.3"/>
<line x1="581.3" y1="394.8" x2="585.1" y2="392.6" stroke="#b89098" stroke-width="1.0"/>
<line x1="612.4" y1="391.6" x2="612.4" y2="385.3" stroke="#d4a4ac" stroke-width="1.3"/>
<line x1="612.4" y1="385.3" x2="608.6" y2="383.1" stroke="#b89098" stroke-width="1.0"/>
<line x1="612.4" y1="391.6" x2="606.9" y2="394.8" stroke="#d4a4ac" stroke-width="1.3"/>
<line x1="606.9" y1="394.8" x2="606.9" y2="399.1" stroke="#b89098" stroke-width="1.0"/>
<line x1="612.4" y1="391.6" x2="617.9" y2="394.8" stroke="#d4a4ac" stroke-width="1.3"/>
<line x1="617.9" y1="394.8" x2="621.7" y2="392.6" stroke="#b89098" stroke-width="1.0"/>
<line x1="501.9" y1="411.7" x2="496.4" y2="408.6" stroke="#d4a4ac" stroke-width="1.3"/>
<line x1="496.4" y1="408.6" x2="492.6" y2="410.8" stroke="#b89098" stroke-width="1.0"/>
<line x1="501.9" y1="411.7" x2="507.4" y2="408.6" stroke="#d4a4ac" stroke-width="1.3"/>
<line x1="507.4" y1="408.6" x2="507.4" y2="404.2" stroke="#b89098" stroke-width="1.0"/>
<line x1="501.9" y1="411.7" x2="501.9" y2="418" stroke="#d4a4ac" stroke-width="1.3"/>
<line x1="501.9" y1="418" x2="505.7" y2="420.2" stroke="#b89098" stroke-width="1.0"/>
<line x1="538.5" y1="411.7" x2="533" y2="408.6" stroke="#d4a4ac" stroke-width="1.3"/>
<line x1="533" y1="408.6" x2="529.2" y2="410.8" stroke="#b89098" stroke-width="1.0"/>
<line x1="538.5" y1="411.7" x2="544" y2="408.6" stroke="#d4a4ac" stroke-width="1.3"/>
<line x1="544" y1="408.6" x2="544" y2="404.2" stroke="#b89098" stroke-width="1.0"/>
<line x1="538.5" y1="411.7" x2="538.5" y2="418" stroke="#d4a4ac" stroke-width="1.3"/>
<line x1="538.5" y1="418" x2="542.3" y2="420.2" stroke="#b89098" stroke-width="1.0"/>
<line x1="575.1" y1="411.7" x2="569.6" y2="408.6" stroke="#d4a4ac" stroke-width="1.3"/>
<line x1="569.6" y1="408.6" x2="565.8" y2="410.8" stroke="#b89098" stroke-width="1.0"/>
<line x1="575.1" y1="411.7" x2="580.6" y2="408.6" stroke="#d4a4ac" stroke-width="1.3"/>
<line x1="580.6" y1="408.6" x2="580.6" y2="404.2" stroke="#b89098" stroke-width="1.0"/>
<line x1="575.1" y1="411.7" x2="575.1" y2="418" stroke="#d4a4ac" stroke-width="1.3"/>
<line x1="575.1" y1="418" x2="578.9" y2="420.2" stroke="#b89098" stroke-width="1.0"/>
<line x1="611.7" y1="411.7" x2="606.2" y2="408.6" stroke="#d4a4ac" stroke-width="1.3"/>
<line x1="606.2" y1="408.6" x2="602.4" y2="410.8" stroke="#b89098" stroke-width="1.0"/>
<line x1="611.7" y1="411.7" x2="617.2" y2="408.6" stroke="#d4a4ac" stroke-width="1.3"/>
<line x1="617.2" y1="408.6" x2="617.2" y2="404.2" stroke="#b89098" stroke-width="1.0"/>
<line x1="611.7" y1="411.7" x2="611.7" y2="418" stroke="#d4a4ac" stroke-width="1.3"/>
<line x1="611.7" y1="418" x2="615.5" y2="420.2" stroke="#b89098" stroke-width="1.0"/>
<circle cx="502.4" cy="289.4" r="1.6" fill="#dcb0b6"/>
<circle cx="539" cy="289.4" r="1.6" fill="#dcb0b6"/>
<circle cx="575.6" cy="289.4" r="1.6" fill="#dcb0b6"/>
<circle cx="612.2" cy="289.4" r="1.6" fill="#dcb0b6"/>
<circle cx="484.4" cy="299.7" r="1.6" fill="#dcb0b6"/>
<circle cx="521" cy="299.7" r="1.6" fill="#dcb0b6"/>
<circle cx="557.6" cy="299.7" r="1.6" fill="#dcb0b6"/>
<circle cx="594.2" cy="299.7" r="1.6" fill="#dcb0b6"/>
<circle cx="484.4" cy="320" r="1.6" fill="#dcb0b6"/>
<circle cx="521" cy="320" r="1.6" fill="#dcb0b6"/>
<circle cx="557.6" cy="320" r="1.6" fill="#dcb0b6"/>
<circle cx="594.2" cy="320" r="1.6" fill="#dcb0b6"/>
<circle cx="502.6" cy="330.3" r="1.6" fill="#dcb0b6"/>
<circle cx="539.2" cy="330.3" r="1.6" fill="#dcb0b6"/>
<circle cx="575.8" cy="330.3" r="1.6" fill="#dcb0b6"/>
<circle cx="612.4" cy="330.3" r="1.6" fill="#dcb0b6"/>
<circle cx="501.9" cy="350.1" r="1.6" fill="#dcb0b6"/>
<circle cx="538.5" cy="350.1" r="1.6" fill="#dcb0b6"/>
<circle cx="575.1" cy="350.1" r="1.6" fill="#dcb0b6"/>
<circle cx="611.7" cy="350.1" r="1.6" fill="#dcb0b6"/>
<circle cx="484.4" cy="361" r="1.6" fill="#dcb0b6"/>
<circle cx="521" cy="361" r="1.6" fill="#dcb0b6"/>
<circle cx="557.6" cy="361" r="1.6" fill="#dcb0b6"/>
<circle cx="594.2" cy="361" r="1.6" fill="#dcb0b6"/>
<circle cx="483.7" cy="381.6" r="1.6" fill="#dcb0b6"/>
<circle cx="520.3" cy="381.6" r="1.6" fill="#dcb0b6"/>
<circle cx="556.9" cy="381.6" r="1.6" fill="#dcb0b6"/>
<circle cx="593.5" cy="381.6" r="1.6" fill="#dcb0b6"/>
<circle cx="502.6" cy="391.6" r="1.6" fill="#dcb0b6"/>
<circle cx="539.2" cy="391.6" r="1.6" fill="#dcb0b6"/>
<circle cx="575.8" cy="391.6" r="1.6" fill="#dcb0b6"/>
<circle cx="612.4" cy="391.6" r="1.6" fill="#dcb0b6"/>
<circle cx="501.9" cy="411.7" r="1.6" fill="#dcb0b6"/>
<circle cx="538.5" cy="411.7" r="1.6" fill="#dcb0b6"/>
<circle cx="575.1" cy="411.7" r="1.6" fill="#dcb0b6"/>
<circle cx="611.7" cy="411.7" r="1.6" fill="#dcb0b6"/>
<circle cx="496.9" cy="286.2" r="2.15" fill="#a8162e"/>
<circle cx="507.9" cy="286.2" r="2.15" fill="#a8162e"/>
<circle cx="502.4" cy="295.7" r="2.15" fill="#a8162e"/>
<circle cx="533.5" cy="286.2" r="2.15" fill="#a8162e"/>
<circle cx="544.5" cy="286.2" r="2.15" fill="#a8162e"/>
<circle cx="539" cy="295.7" r="2.15" fill="#a8162e"/>
<circle cx="570.1" cy="286.2" r="2.15" fill="#a8162e"/>
<circle cx="581.1" cy="286.2" r="2.15" fill="#a8162e"/>
<circle cx="575.6" cy="295.7" r="2.15" fill="#a8162e"/>
<circle cx="606.7" cy="286.2" r="2.15" fill="#a8162e"/>
<circle cx="617.7" cy="286.2" r="2.15" fill="#a8162e"/>
<circle cx="612.2" cy="295.7" r="2.15" fill="#a8162e"/>
<circle cx="484.4" cy="293.4" r="2.15" fill="#a8162e"/>
<circle cx="478.9" cy="302.8" r="2.15" fill="#a8162e"/>
<circle cx="489.9" cy="302.8" r="2.15" fill="#a8162e"/>
<circle cx="521" cy="293.4" r="2.15" fill="#a8162e"/>
<circle cx="515.5" cy="302.8" r="2.15" fill="#a8162e"/>
<circle cx="526.5" cy="302.8" r="2.15" fill="#a8162e"/>
<circle cx="557.6" cy="293.4" r="2.15" fill="#a8162e"/>
<circle cx="552.1" cy="302.8" r="2.15" fill="#a8162e"/>
<circle cx="563.1" cy="302.8" r="2.15" fill="#a8162e"/>
<circle cx="594.2" cy="293.4" r="2.15" fill="#a8162e"/>
<circle cx="588.7" cy="302.8" r="2.15" fill="#a8162e"/>
<circle cx="599.7" cy="302.8" r="2.15" fill="#a8162e"/>
<circle cx="478.9" cy="316.9" r="2.15" fill="#a8162e"/>
<circle cx="489.9" cy="316.9" r="2.15" fill="#a8162e"/>
<circle cx="484.4" cy="326.3" r="2.15" fill="#a8162e"/>
<circle cx="515.5" cy="316.9" r="2.15" fill="#a8162e"/>
<circle cx="526.5" cy="316.9" r="2.15" fill="#a8162e"/>
<circle cx="521" cy="326.3" r="2.15" fill="#a8162e"/>
<circle cx="552.1" cy="316.9" r="2.15" fill="#a8162e"/>
<circle cx="563.1" cy="316.9" r="2.15" fill="#a8162e"/>
<circle cx="557.6" cy="326.3" r="2.15" fill="#a8162e"/>
<circle cx="588.7" cy="316.9" r="2.15" fill="#a8162e"/>
<circle cx="599.7" cy="316.9" r="2.15" fill="#a8162e"/>
<circle cx="594.2" cy="326.3" r="2.15" fill="#a8162e"/>
<circle cx="502.6" cy="324" r="2.15" fill="#a8162e"/>
<circle cx="497.1" cy="333.4" r="2.15" fill="#a8162e"/>
<circle cx="508.1" cy="333.4" r="2.15" fill="#a8162e"/>
<circle cx="539.2" cy="324" r="2.15" fill="#a8162e"/>
<circle cx="533.7" cy="333.4" r="2.15" fill="#a8162e"/>
<circle cx="544.7" cy="333.4" r="2.15" fill="#a8162e"/>
<circle cx="575.8" cy="324" r="2.15" fill="#a8162e"/>
<circle cx="570.3" cy="333.4" r="2.15" fill="#a8162e"/>
<circle cx="581.3" cy="333.4" r="2.15" fill="#a8162e"/>
<circle cx="612.4" cy="324" r="2.15" fill="#a8162e"/>
<circle cx="606.9" cy="333.4" r="2.15" fill="#a8162e"/>
<circle cx="617.9" cy="333.4" r="2.15" fill="#a8162e"/>
<circle cx="496.4" cy="347" r="2.15" fill="#a8162e"/>
<circle cx="507.4" cy="347" r="2.15" fill="#a8162e"/>
<circle cx="501.9" cy="356.4" r="2.15" fill="#a8162e"/>
<circle cx="533" cy="347" r="2.15" fill="#a8162e"/>
<circle cx="544" cy="347" r="2.15" fill="#a8162e"/>
<circle cx="538.5" cy="356.4" r="2.15" fill="#a8162e"/>
<circle cx="569.6" cy="347" r="2.15" fill="#a8162e"/>
<circle cx="580.6" cy="347" r="2.15" fill="#a8162e"/>
<circle cx="575.1" cy="356.4" r="2.15" fill="#a8162e"/>
<circle cx="606.2" cy="347" r="2.15" fill="#a8162e"/>
<circle cx="617.2" cy="347" r="2.15" fill="#a8162e"/>
<circle cx="611.7" cy="356.4" r="2.15" fill="#a8162e"/>
<circle cx="484.4" cy="354.7" r="2.15" fill="#a8162e"/>
<circle cx="478.9" cy="364.1" r="2.15" fill="#a8162e"/>
<circle cx="489.9" cy="364.1" r="2.15" fill="#a8162e"/>
<circle cx="521" cy="354.7" r="2.15" fill="#a8162e"/>
<circle cx="515.5" cy="364.1" r="2.15" fill="#a8162e"/>
<circle cx="526.5" cy="364.1" r="2.15" fill="#a8162e"/>
<circle cx="557.6" cy="354.7" r="2.15" fill="#a8162e"/>
<circle cx="552.1" cy="364.1" r="2.15" fill="#a8162e"/>
<circle cx="563.1" cy="364.1" r="2.15" fill="#a8162e"/>
<circle cx="594.2" cy="354.7" r="2.15" fill="#a8162e"/>
<circle cx="588.7" cy="364.1" r="2.15" fill="#a8162e"/>
<circle cx="599.7" cy="364.1" r="2.15" fill="#a8162e"/>
<circle cx="478.2" cy="378.5" r="2.15" fill="#a8162e"/>
<circle cx="489.2" cy="378.5" r="2.15" fill="#a8162e"/>
<circle cx="483.7" cy="387.9" r="2.15" fill="#a8162e"/>
<circle cx="514.8" cy="378.5" r="2.15" fill="#a8162e"/>
<circle cx="525.8" cy="378.5" r="2.15" fill="#a8162e"/>
<circle cx="520.3" cy="387.9" r="2.15" fill="#a8162e"/>
<circle cx="551.4" cy="378.5" r="2.15" fill="#a8162e"/>
<circle cx="562.4" cy="378.5" r="2.15" fill="#a8162e"/>
<circle cx="556.9" cy="387.9" r="2.15" fill="#a8162e"/>
<circle cx="588" cy="378.5" r="2.15" fill="#a8162e"/>
<circle cx="599" cy="378.5" r="2.15" fill="#a8162e"/>
<circle cx="593.5" cy="387.9" r="2.15" fill="#a8162e"/>
<circle cx="502.6" cy="385.3" r="2.15" fill="#a8162e"/>
<circle cx="497.1" cy="394.8" r="2.15" fill="#a8162e"/>
<circle cx="508.1" cy="394.8" r="2.15" fill="#a8162e"/>
<circle cx="539.2" cy="385.3" r="2.15" fill="#a8162e"/>
<circle cx="533.7" cy="394.8" r="2.15" fill="#a8162e"/>
<circle cx="544.7" cy="394.8" r="2.15" fill="#a8162e"/>
<circle cx="575.8" cy="385.3" r="2.15" fill="#a8162e"/>
<circle cx="570.3" cy="394.8" r="2.15" fill="#a8162e"/>
<circle cx="581.3" cy="394.8" r="2.15" fill="#a8162e"/>
<circle cx="612.4" cy="385.3" r="2.15" fill="#a8162e"/>
<circle cx="606.9" cy="394.8" r="2.15" fill="#a8162e"/>
<circle cx="617.9" cy="394.8" r="2.15" fill="#a8162e"/>
<circle cx="496.4" cy="408.6" r="2.15" fill="#a8162e"/>
<circle cx="507.4" cy="408.6" r="2.15" fill="#a8162e"/>
<circle cx="501.9" cy="418" r="2.15" fill="#a8162e"/>
<circle cx="533" cy="408.6" r="2.15" fill="#a8162e"/>
<circle cx="544" cy="408.6" r="2.15" fill="#a8162e"/>
<circle cx="538.5" cy="418" r="2.15" fill="#a8162e"/>
<circle cx="569.6" cy="408.6" r="2.15" fill="#a8162e"/>
<circle cx="580.6" cy="408.6" r="2.15" fill="#a8162e"/>
<circle cx="575.1" cy="418" r="2.15" fill="#a8162e"/>
<circle cx="606.2" cy="408.6" r="2.15" fill="#a8162e"/>
<circle cx="617.2" cy="408.6" r="2.15" fill="#a8162e"/>
<circle cx="611.7" cy="418" r="2.15" fill="#a8162e"/>
<circle cx="493.1" cy="288.4" r="1.75" fill="#b4c2bc" stroke="#8c9894" stroke-width="0.4"/>
<circle cx="507.9" cy="281.9" r="1.75" fill="#b4c2bc" stroke="#8c9894" stroke-width="0.4"/>
<circle cx="506.2" cy="297.9" r="1.75" fill="#b4c2bc" stroke="#8c9894" stroke-width="0.4"/>
<circle cx="529.7" cy="288.4" r="1.75" fill="#b4c2bc" stroke="#8c9894" stroke-width="0.4"/>
<circle cx="544.5" cy="281.9" r="1.75" fill="#b4c2bc" stroke="#8c9894" stroke-width="0.4"/>
<circle cx="542.8" cy="297.9" r="1.75" fill="#b4c2bc" stroke="#8c9894" stroke-width="0.4"/>
<circle cx="566.3" cy="288.4" r="1.75" fill="#b4c2bc" stroke="#8c9894" stroke-width="0.4"/>
<circle cx="581.1" cy="281.9" r="1.75" fill="#b4c2bc" stroke="#8c9894" stroke-width="0.4"/>
<circle cx="579.4" cy="297.9" r="1.75" fill="#b4c2bc" stroke="#8c9894" stroke-width="0.4"/>
<circle cx="602.9" cy="288.4" r="1.75" fill="#b4c2bc" stroke="#8c9894" stroke-width="0.4"/>
<circle cx="617.7" cy="281.9" r="1.75" fill="#b4c2bc" stroke="#8c9894" stroke-width="0.4"/>
<circle cx="616" cy="297.9" r="1.75" fill="#b4c2bc" stroke="#8c9894" stroke-width="0.4"/>
<circle cx="480.6" cy="291.2" r="1.75" fill="#b4c2bc" stroke="#8c9894" stroke-width="0.4"/>
<circle cx="478.9" cy="307.2" r="1.75" fill="#b4c2bc" stroke="#8c9894" stroke-width="0.4"/>
<circle cx="493.7" cy="300.6" r="1.75" fill="#b4c2bc" stroke="#8c9894" stroke-width="0.4"/>
<circle cx="517.2" cy="291.2" r="1.75" fill="#b4c2bc" stroke="#8c9894" stroke-width="0.4"/>
<circle cx="515.5" cy="307.2" r="1.75" fill="#b4c2bc" stroke="#8c9894" stroke-width="0.4"/>
<circle cx="530.3" cy="300.6" r="1.75" fill="#b4c2bc" stroke="#8c9894" stroke-width="0.4"/>
<circle cx="553.8" cy="291.2" r="1.75" fill="#b4c2bc" stroke="#8c9894" stroke-width="0.4"/>
<circle cx="552.1" cy="307.2" r="1.75" fill="#b4c2bc" stroke="#8c9894" stroke-width="0.4"/>
<circle cx="566.9" cy="300.6" r="1.75" fill="#b4c2bc" stroke="#8c9894" stroke-width="0.4"/>
<circle cx="590.4" cy="291.2" r="1.75" fill="#b4c2bc" stroke="#8c9894" stroke-width="0.4"/>
<circle cx="588.7" cy="307.2" r="1.75" fill="#b4c2bc" stroke="#8c9894" stroke-width="0.4"/>
<circle cx="603.5" cy="300.6" r="1.75" fill="#b4c2bc" stroke="#8c9894" stroke-width="0.4"/>
<circle cx="475.1" cy="319.1" r="1.75" fill="#b4c2bc" stroke="#8c9894" stroke-width="0.4"/>
<circle cx="489.9" cy="312.5" r="1.75" fill="#b4c2bc" stroke="#8c9894" stroke-width="0.4"/>
<circle cx="488.2" cy="328.5" r="1.75" fill="#b4c2bc" stroke="#8c9894" stroke-width="0.4"/>
<circle cx="511.7" cy="319.1" r="1.75" fill="#b4c2bc" stroke="#8c9894" stroke-width="0.4"/>
<circle cx="526.5" cy="312.5" r="1.75" fill="#b4c2bc" stroke="#8c9894" stroke-width="0.4"/>
<circle cx="524.8" cy="328.5" r="1.75" fill="#b4c2bc" stroke="#8c9894" stroke-width="0.4"/>
<circle cx="548.3" cy="319.1" r="1.75" fill="#b4c2bc" stroke="#8c9894" stroke-width="0.4"/>
<circle cx="563.1" cy="312.5" r="1.75" fill="#b4c2bc" stroke="#8c9894" stroke-width="0.4"/>
<circle cx="561.4" cy="328.5" r="1.75" fill="#b4c2bc" stroke="#8c9894" stroke-width="0.4"/>
<circle cx="584.9" cy="319.1" r="1.75" fill="#b4c2bc" stroke="#8c9894" stroke-width="0.4"/>
<circle cx="599.7" cy="312.5" r="1.75" fill="#b4c2bc" stroke="#8c9894" stroke-width="0.4"/>
<circle cx="598" cy="328.5" r="1.75" fill="#b4c2bc" stroke="#8c9894" stroke-width="0.4"/>
<circle cx="498.8" cy="321.8" r="1.75" fill="#b4c2bc" stroke="#8c9894" stroke-width="0.4"/>
<circle cx="497.1" cy="337.8" r="1.75" fill="#b4c2bc" stroke="#8c9894" stroke-width="0.4"/>
<circle cx="511.9" cy="331.2" r="1.75" fill="#b4c2bc" stroke="#8c9894" stroke-width="0.4"/>
<circle cx="535.4" cy="321.8" r="1.75" fill="#b4c2bc" stroke="#8c9894" stroke-width="0.4"/>
<circle cx="533.7" cy="337.8" r="1.75" fill="#b4c2bc" stroke="#8c9894" stroke-width="0.4"/>
<circle cx="548.5" cy="331.2" r="1.75" fill="#b4c2bc" stroke="#8c9894" stroke-width="0.4"/>
<circle cx="572" cy="321.8" r="1.75" fill="#b4c2bc" stroke="#8c9894" stroke-width="0.4"/>
<circle cx="570.3" cy="337.8" r="1.75" fill="#b4c2bc" stroke="#8c9894" stroke-width="0.4"/>
<circle cx="585.1" cy="331.2" r="1.75" fill="#b4c2bc" stroke="#8c9894" stroke-width="0.4"/>
<circle cx="608.6" cy="321.8" r="1.75" fill="#b4c2bc" stroke="#8c9894" stroke-width="0.4"/>
<circle cx="606.9" cy="337.8" r="1.75" fill="#b4c2bc" stroke="#8c9894" stroke-width="0.4"/>
<circle cx="621.7" cy="331.2" r="1.75" fill="#b4c2bc" stroke="#8c9894" stroke-width="0.4"/>
<circle cx="492.6" cy="349.2" r="1.75" fill="#b4c2bc" stroke="#8c9894" stroke-width="0.4"/>
<circle cx="507.4" cy="342.6" r="1.75" fill="#b4c2bc" stroke="#8c9894" stroke-width="0.4"/>
<circle cx="505.7" cy="358.6" r="1.75" fill="#b4c2bc" stroke="#8c9894" stroke-width="0.4"/>
<circle cx="529.2" cy="349.2" r="1.75" fill="#b4c2bc" stroke="#8c9894" stroke-width="0.4"/>
<circle cx="544" cy="342.6" r="1.75" fill="#b4c2bc" stroke="#8c9894" stroke-width="0.4"/>
<circle cx="542.3" cy="358.6" r="1.75" fill="#b4c2bc" stroke="#8c9894" stroke-width="0.4"/>
<circle cx="565.8" cy="349.2" r="1.75" fill="#b4c2bc" stroke="#8c9894" stroke-width="0.4"/>
<circle cx="580.6" cy="342.6" r="1.75" fill="#b4c2bc" stroke="#8c9894" stroke-width="0.4"/>
<circle cx="578.9" cy="358.6" r="1.75" fill="#b4c2bc" stroke="#8c9894" stroke-width="0.4"/>
<circle cx="602.4" cy="349.2" r="1.75" fill="#b4c2bc" stroke="#8c9894" stroke-width="0.4"/>
<circle cx="617.2" cy="342.6" r="1.75" fill="#b4c2bc" stroke="#8c9894" stroke-width="0.4"/>
<circle cx="615.5" cy="358.6" r="1.75" fill="#b4c2bc" stroke="#8c9894" stroke-width="0.4"/>
<circle cx="480.6" cy="352.5" r="1.75" fill="#b4c2bc" stroke="#8c9894" stroke-width="0.4"/>
<circle cx="478.9" cy="368.5" r="1.75" fill="#b4c2bc" stroke="#8c9894" stroke-width="0.4"/>
<circle cx="493.7" cy="361.9" r="1.75" fill="#b4c2bc" stroke="#8c9894" stroke-width="0.4"/>
<circle cx="517.2" cy="352.5" r="1.75" fill="#b4c2bc" stroke="#8c9894" stroke-width="0.4"/>
<circle cx="515.5" cy="368.5" r="1.75" fill="#b4c2bc" stroke="#8c9894" stroke-width="0.4"/>
<circle cx="530.3" cy="361.9" r="1.75" fill="#b4c2bc" stroke="#8c9894" stroke-width="0.4"/>
<circle cx="553.8" cy="352.5" r="1.75" fill="#b4c2bc" stroke="#8c9894" stroke-width="0.4"/>
<circle cx="552.1" cy="368.5" r="1.75" fill="#b4c2bc" stroke="#8c9894" stroke-width="0.4"/>
<circle cx="566.9" cy="361.9" r="1.75" fill="#b4c2bc" stroke="#8c9894" stroke-width="0.4"/>
<circle cx="590.4" cy="352.5" r="1.75" fill="#b4c2bc" stroke="#8c9894" stroke-width="0.4"/>
<circle cx="588.7" cy="368.5" r="1.75" fill="#b4c2bc" stroke="#8c9894" stroke-width="0.4"/>
<circle cx="603.5" cy="361.9" r="1.75" fill="#b4c2bc" stroke="#8c9894" stroke-width="0.4"/>
<circle cx="474.4" cy="380.7" r="1.75" fill="#b4c2bc" stroke="#8c9894" stroke-width="0.4"/>
<circle cx="489.2" cy="374.1" r="1.75" fill="#b4c2bc" stroke="#8c9894" stroke-width="0.4"/>
<circle cx="487.5" cy="390.1" r="1.75" fill="#b4c2bc" stroke="#8c9894" stroke-width="0.4"/>
<circle cx="511" cy="380.7" r="1.75" fill="#b4c2bc" stroke="#8c9894" stroke-width="0.4"/>
<circle cx="525.8" cy="374.1" r="1.75" fill="#b4c2bc" stroke="#8c9894" stroke-width="0.4"/>
<circle cx="524.1" cy="390.1" r="1.75" fill="#b4c2bc" stroke="#8c9894" stroke-width="0.4"/>
<circle cx="547.6" cy="380.7" r="1.75" fill="#b4c2bc" stroke="#8c9894" stroke-width="0.4"/>
<circle cx="562.4" cy="374.1" r="1.75" fill="#b4c2bc" stroke="#8c9894" stroke-width="0.4"/>
<circle cx="560.7" cy="390.1" r="1.75" fill="#b4c2bc" stroke="#8c9894" stroke-width="0.4"/>
<circle cx="584.2" cy="380.7" r="1.75" fill="#b4c2bc" stroke="#8c9894" stroke-width="0.4"/>
<circle cx="599" cy="374.1" r="1.75" fill="#b4c2bc" stroke="#8c9894" stroke-width="0.4"/>
<circle cx="597.3" cy="390.1" r="1.75" fill="#b4c2bc" stroke="#8c9894" stroke-width="0.4"/>
<circle cx="498.8" cy="383.1" r="1.75" fill="#b4c2bc" stroke="#8c9894" stroke-width="0.4"/>
<circle cx="497.1" cy="399.1" r="1.75" fill="#b4c2bc" stroke="#8c9894" stroke-width="0.4"/>
<circle cx="511.9" cy="392.6" r="1.75" fill="#b4c2bc" stroke="#8c9894" stroke-width="0.4"/>
<circle cx="535.4" cy="383.1" r="1.75" fill="#b4c2bc" stroke="#8c9894" stroke-width="0.4"/>
<circle cx="533.7" cy="399.1" r="1.75" fill="#b4c2bc" stroke="#8c9894" stroke-width="0.4"/>
<circle cx="548.5" cy="392.6" r="1.75" fill="#b4c2bc" stroke="#8c9894" stroke-width="0.4"/>
<circle cx="572" cy="383.1" r="1.75" fill="#b4c2bc" stroke="#8c9894" stroke-width="0.4"/>
<circle cx="570.3" cy="399.1" r="1.75" fill="#b4c2bc" stroke="#8c9894" stroke-width="0.4"/>
<circle cx="585.1" cy="392.6" r="1.75" fill="#b4c2bc" stroke="#8c9894" stroke-width="0.4"/>
<circle cx="608.6" cy="383.1" r="1.75" fill="#b4c2bc" stroke="#8c9894" stroke-width="0.4"/>
<circle cx="606.9" cy="399.1" r="1.75" fill="#b4c2bc" stroke="#8c9894" stroke-width="0.4"/>
<circle cx="621.7" cy="392.6" r="1.75" fill="#b4c2bc" stroke="#8c9894" stroke-width="0.4"/>
<circle cx="492.6" cy="410.8" r="1.75" fill="#b4c2bc" stroke="#8c9894" stroke-width="0.4"/>
<circle cx="507.4" cy="404.2" r="1.75" fill="#b4c2bc" stroke="#8c9894" stroke-width="0.4"/>
<circle cx="505.7" cy="420.2" r="1.75" fill="#b4c2bc" stroke="#8c9894" stroke-width="0.4"/>
<circle cx="529.2" cy="410.8" r="1.75" fill="#b4c2bc" stroke="#8c9894" stroke-width="0.4"/>
<circle cx="544" cy="404.2" r="1.75" fill="#b4c2bc" stroke="#8c9894" stroke-width="0.4"/>
<circle cx="542.3" cy="420.2" r="1.75" fill="#b4c2bc" stroke="#8c9894" stroke-width="0.4"/>
<circle cx="565.8" cy="410.8" r="1.75" fill="#b4c2bc" stroke="#8c9894" stroke-width="0.4"/>
<circle cx="580.6" cy="404.2" r="1.75" fill="#b4c2bc" stroke="#8c9894" stroke-width="0.4"/>
<circle cx="578.9" cy="420.2" r="1.75" fill="#b4c2bc" stroke="#8c9894" stroke-width="0.4"/>
<circle cx="602.4" cy="410.8" r="1.75" fill="#b4c2bc" stroke="#8c9894" stroke-width="0.4"/>
<circle cx="617.2" cy="404.2" r="1.75" fill="#b4c2bc" stroke="#8c9894" stroke-width="0.4"/>
<circle cx="615.5" cy="420.2" r="1.75" fill="#b4c2bc" stroke="#8c9894" stroke-width="0.4"/>
</g>
<text font-family="Carlito, Liberation Sans, sans-serif" fill="#222" font-size="6.25" x="496.1" y="405.5">This is an example of boric acid hydrogen</text>
<text font-family="Carlito, Liberation Sans, sans-serif" fill="#222" font-size="6.25" x="496.1" y="413">bonding.</text>
<g stroke="#777" stroke-width="1" fill="none">
<line x1="711.5" y1="526" x2="724.3" y2="526"/>
<line x1="732.9" y1="526" x2="742.1" y2="526"/>
<line x1="749.3" y1="526" x2="760.3" y2="526"/>
<line x1="728.6" y1="515.5" x2="728.6" y2="521" stroke="#555" stroke-width="0.8"/>
<line x1="728.6" y1="530.8" x2="728.6" y2="536.6" stroke="#555" stroke-width="0.8"/>
<line x1="768.9" y1="526" x2="778" y2="526"/>
<line x1="785.2" y1="526" x2="796.3" y2="526"/>
<line x1="764.6" y1="515.5" x2="764.6" y2="521" stroke="#555" stroke-width="0.8"/>
<line x1="764.6" y1="530.8" x2="764.6" y2="536.6" stroke="#555" stroke-width="0.8"/>
<line x1="804.9" y1="526" x2="814.2" y2="526"/>
<line x1="821.4" y1="526" x2="832.4" y2="526"/>
<line x1="800.6" y1="515.5" x2="800.6" y2="521" stroke="#555" stroke-width="0.8"/>
<line x1="800.6" y1="530.8" x2="800.6" y2="536.6" stroke="#555" stroke-width="0.8"/>
<line x1="841" y1="526" x2="850.4" y2="526"/>
<line x1="857.6" y1="526" x2="868.4" y2="526"/>
<line x1="836.7" y1="515.5" x2="836.7" y2="521" stroke="#555" stroke-width="0.8"/>
<line x1="836.7" y1="530.8" x2="836.7" y2="536.6" stroke="#555" stroke-width="0.8"/>
<line x1="877" y1="526" x2="886.7" y2="526"/>
<line x1="893.9" y1="526" x2="904.3" y2="526"/>
<line x1="872.7" y1="515.5" x2="872.7" y2="521" stroke="#555" stroke-width="0.8"/>
<line x1="872.7" y1="530.8" x2="872.7" y2="536.6" stroke="#555" stroke-width="0.8"/>
<line x1="912.9" y1="526" x2="923" y2="526"/>
<line x1="908.6" y1="515.5" x2="908.6" y2="521" stroke="#555" stroke-width="0.8"/>
<line x1="908.6" y1="530.8" x2="908.6" y2="536.6" stroke="#555" stroke-width="0.8"/>
<line x1="930.2" y1="526" x2="942" y2="526"/>
<path d="M698,526.8 l0.8,-1.6 l0.8,1.6 l0.8,-1.6 l0.8,1.6 l0.8,-1.6 l0.8,1.6 l0.8,-1.6 l0.8,1.6 l0.8,-1.6 l0.8,1.6 l0.8,-1.6 l0.8,1.6 l0.8,-1.6 l0.8,1.6 l0.8,-1.6 l0.8,1.6 l0.8,-1.6" stroke="#555" stroke-width="0.6"/>
<path d="M942,526.8 l0.8,-1.6 l0.8,1.6 l0.8,-1.6 l0.8,1.6 l0.8,-1.6 l0.8,1.6 l0.8,-1.6 l0.8,1.6 l0.8,-1.6 l0.8,1.6 l0.8,-1.6 l0.8,1.6 l0.8,-1.6 l0.8,1.6 l0.8,-1.6 l0.8,1.6 l0.8,-1.6" stroke="#555" stroke-width="0.6"/>
</g>
<text font-family="Liberation Serif, Times New Roman, serif" fill="#1a1a1a" font-size="9.4" text-anchor="middle" x="728.6" y="529.4">Si</text>
<text font-family="Liberation Serif, Times New Roman, serif" fill="#1a1a1a" font-size="9.4" text-anchor="middle" x="745.7" y="529.4">O</text>
<text font-family="Liberation Serif, Times New Roman, serif" fill="#1a1a1a" font-size="9.4" text-anchor="middle" x="728.6" y="514.4">R</text>
<text font-family="Liberation Serif, Times New Roman, serif" fill="#1a1a1a" font-size="9.4" text-anchor="middle" x="728.6" y="544.4">R</text>
<text font-family="Liberation Serif, Times New Roman, serif" fill="#1a1a1a" font-size="9.4" text-anchor="middle" x="764.6" y="529.4">Si</text>
<text font-family="Liberation Serif, Times New Roman, serif" fill="#1a1a1a" font-size="9.4" text-anchor="middle" x="781.6" y="529.4">O</text>
<text font-family="Liberation Serif, Times New Roman, serif" fill="#1a1a1a" font-size="9.4" text-anchor="middle" x="764.6" y="514.4">R</text>
<text font-family="Liberation Serif, Times New Roman, serif" fill="#1a1a1a" font-size="9.4" text-anchor="middle" x="764.6" y="544.4">R</text>
<text font-family="Liberation Serif, Times New Roman, serif" fill="#1a1a1a" font-size="9.4" text-anchor="middle" x="800.6" y="529.4">Si</text>
<text font-family="Liberation Serif, Times New Roman, serif" fill="#1a1a1a" font-size="9.4" text-anchor="middle" x="817.8" y="529.4">O</text>
<text font-family="Liberation Serif, Times New Roman, serif" fill="#1a1a1a" font-size="9.4" text-anchor="middle" x="800.6" y="514.4">R</text>
<text font-family="Liberation Serif, Times New Roman, serif" fill="#1a1a1a" font-size="9.4" text-anchor="middle" x="800.6" y="544.4">R</text>
<text font-family="Liberation Serif, Times New Roman, serif" fill="#1a1a1a" font-size="9.4" text-anchor="middle" x="836.7" y="529.4">Si</text>
<text font-family="Liberation Serif, Times New Roman, serif" fill="#1a1a1a" font-size="9.4" text-anchor="middle" x="854" y="529.4">O</text>
<text font-family="Liberation Serif, Times New Roman, serif" fill="#1a1a1a" font-size="9.4" text-anchor="middle" x="836.7" y="514.4">R</text>
<text font-family="Liberation Serif, Times New Roman, serif" fill="#1a1a1a" font-size="9.4" text-anchor="middle" x="836.7" y="544.4">R</text>
<text font-family="Liberation Serif, Times New Roman, serif" fill="#1a1a1a" font-size="9.4" text-anchor="middle" x="872.7" y="529.4">Si</text>
<text font-family="Liberation Serif, Times New Roman, serif" fill="#1a1a1a" font-size="9.4" text-anchor="middle" x="890.3" y="529.4">O</text>
<text font-family="Liberation Serif, Times New Roman, serif" fill="#1a1a1a" font-size="9.4" text-anchor="middle" x="872.7" y="514.4">R</text>
<text font-family="Liberation Serif, Times New Roman, serif" fill="#1a1a1a" font-size="9.4" text-anchor="middle" x="872.7" y="544.4">R</text>
<text font-family="Liberation Serif, Times New Roman, serif" fill="#1a1a1a" font-size="9.4" text-anchor="middle" x="908.6" y="529.4">Si</text>
<text font-family="Liberation Serif, Times New Roman, serif" fill="#1a1a1a" font-size="9.4" text-anchor="middle" x="926.6" y="529.4">O</text>
<text font-family="Liberation Serif, Times New Roman, serif" fill="#1a1a1a" font-size="9.4" text-anchor="middle" x="908.6" y="514.4">R</text>
<text font-family="Liberation Serif, Times New Roman, serif" fill="#1a1a1a" font-size="9.4" text-anchor="middle" x="908.6" y="544.4">R</text>
</svg>
<div class="t title" style="left:300px;top:28.9px">The Chemistry of Silly Putty</div>
<div class="t h h2" style="left:20.5px;top:134px">Composition of Silly Putty</div>
<div class="t s s16" style="left:22px;top:199px">65% - Dimethyl Siloxane<br>17% - Silica<br>&#8199;9% - Thixotrol ST (castor oil derivative)<br>&#8199;4% - Polydimethylsiloxane<br>&#8199;1% - Decamethyl cyclopentasiloxane<br>&#8199;1% - Glycerine<br>&#8199;1% - Titanium Dioxide</div>
<div class="t h h1" style="left:824.3px;top:152.4px">Bond&nbsp; Types</div>
<div class="t s s12" style="left:742.5px;top:194.6px;line-height:15.07px">&#8226;The polymers in silly putty have covalent bonds<br>within the molecules, but hydrogen bonds<br>between the molecules.<br>&#8226;These hydrogen bonds are easily broken, when<br>only small amounts of stress are slowly applied to<br>the putty. Only a few bonds are broken and that&#8217;s<br>why the putty can &#8220;stretch".<br>&#8226;When larger amounts of stress are applied<br>quickly, there are many hydrogen bonds that<br>break, and that is why it can also rip apart</div>
<div class="t h h2" style="left:160.3px;top:377.9px">Silicones</div>
<div class="t s s12" style="left:45.9px;top:428.4px;font-size:12.65px;line-height:15.15px">&#8226;Polyorganosiloxanes have empirical formulas of R<sub>2</sub>SiO, and are called<br>silicones.<br>&#8226;Silicones are viscoelastic materials. They behave like liquids at high<br>temperature or when allowed to flow over a long period of time. They<br>behave like elastic solids or elastomers at low temperature. The elastic<br>behavior comes from the very flexible silicon-oxygen bonds. When the<br>molecular weight is high, these flexible chains become loosely<br>entangled which imparts a high level of viscoelasticity.<br>&#8226;Polydimethylsiloxane has repeating (CH<sub>3</sub>)<sub>2</sub>SiO. Altering the number of<br>repeat units (value of n) in the chain and the degree of cross-linking<br>which ties multiple polymer chains together generates polymers<br>possessing different physical properties. Since silicon-chlorine bonds are<br>very susceptible to cleavage by water, polydimethylsiloxane can be<br>synthesized by hydrolyzing dichlorodimethylsilane.<br>&#8226;The initial hydrolysis reaction exothermically generates a silanol<br>Si(CH<sub>3</sub>)<sub>2</sub>(OH)<sub>2</sub> which condenses through the loss of water to form the<br>siloxane polymer. Since dichlorodimethylsilane is bifunctional (has two<br>chlorines). The Chain will then spread in two directions, and this<br>generates high molecular weight polymers which retain some residual<br>hydroxyl groups. The residual hydroxyl groups react with boric acid<br>B(OH)<sub>3</sub> to form Si-O-B linkages between polysiloxane chains. Since<br>boric acid is trifunctional, a single boron has the ability to join three<br>polysiloxane chains together. This joining of chains is called cross-<br>linking. Cross-linking produces a high molecular weight polymer that is<br>a soft and flexible.</div>
<div class="t h h1" style="left:700px;top:380.4px">What is an Inorganic Polymer?</div>
<div class="t c16" style="left:666px;top:428.8px">It is large molecules, usually linear or branched<br>chains with atoms other than carbon in their<br>backbone</div>
<div class="t h h1" style="left:505px;top:430.4px">Thixotrol</div>
<div class="t s s12" style="left:434.4px;top:463.8px">A Thixotropy is the property of certain<br>gels or fluids that are thick (viscous) under<br>normal conditions, but flow (become thin,<br>less viscous) over time when shaken,<br>agitated, or otherwise stressed.</div>
<div class="t h h1" style="left:507.8px;top:574px">Fun Fact</div>
<div class="t s s12" style="left:434.6px;top:609.3px;line-height:15.07px">You can actually make your own homemade<br>version of silly putty.<br>solution of 55% Elmer's glue solution in water<br>solution of 16% sodium borate (Borax) in water<br>food coloring (optional)<br>Ziploc bags<br>Mix together 4 parts of the glue solution with<br>one part of the borax solution. Add food<br>coloring, if desired. Refrigerate the mixture in<br>the sealed bag when not in use.</div>
<div class="t h h1" style="left:770.8px;top:573.9px">How it&#8217;s Made</div>
<div class="t s s16" style="left:717.9px;top:613.3px;line-height:18.85px;color:#3a3a3a">&#8226;Silly Putty is an inorganic polymer<br>&#8226;One way to make the polymer is by<br>reacting dimethyldichlorosilane in<br>diethyl ether with water. The ether<br>solution of the silicone oil is washed<br>with an aqueous sodium bicarbonate<br>solution. The ether is evaporated off.<br>Powdered boric oxide is added to the<br>oil and heated to make the putty.<br>&#8226; The initial reaction is also known to<br>be violent</div>
</body></html>
